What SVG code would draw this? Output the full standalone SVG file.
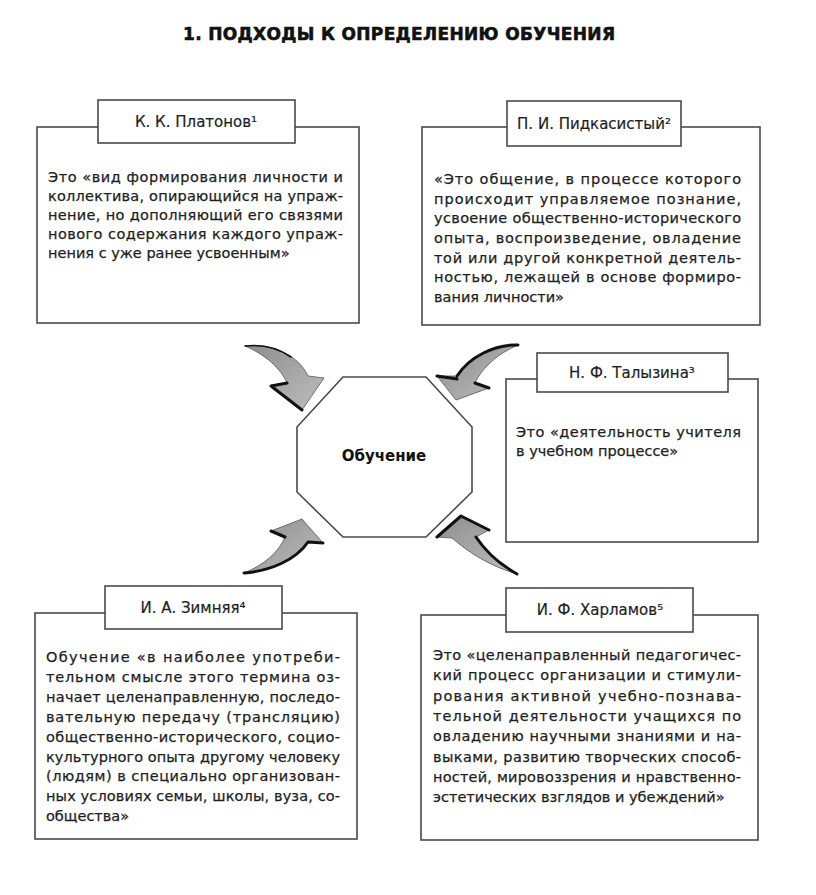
<svg xmlns="http://www.w3.org/2000/svg" width="816" height="895" viewBox="0 0 816 895">
<defs>
<linearGradient id="ag" x1="0" y1="0" x2="1" y2="1">
<stop offset="0" stop-color="#8e8e8e"/>
<stop offset="1" stop-color="#bdbdbd"/>
</linearGradient>
<style>
.box{fill:#fff;stroke:#4a4a4a;stroke-width:1.6}
.lab{font-family:"DejaVu Sans","Liberation Sans",sans-serif;font-size:15px;fill:#1e1e1e;stroke:#1e1e1e;stroke-width:0.2;text-anchor:middle}
.t{font-family:"DejaVu Sans","Liberation Sans",sans-serif;font-size:14.5px;fill:#1e1e1e;stroke:#1e1e1e;stroke-width:0.25}
.ttl{font-family:"DejaVu Sans","Liberation Sans",sans-serif;font-size:17px;font-weight:bold;fill:#111;stroke:#111;stroke-width:0.6}
.ctr{font-family:"DejaVu Sans","Liberation Sans",sans-serif;font-size:15px;font-weight:bold;fill:#111;text-anchor:middle}
.arr{fill:url(#ag);stroke:#555;stroke-width:0.8}
.edge{fill:none;stroke:#111;stroke-width:3;stroke-linecap:round;stroke-linejoin:round}
</style>
</defs>
<rect width="816" height="895" fill="#fff"/>
<text class="ttl" x="183" y="40" textLength="432" lengthAdjust="spacing">1. ПОДХОДЫ К ОПРЕДЕЛЕНИЮ ОБУЧЕНИЯ</text>

<g id="platonov">
<rect class="box" x="37" y="127" width="322" height="196"/>
<rect class="box" x="98" y="100" width="197" height="43"/>
<text class="lab" x="196" y="127">К. К. Платонов¹</text>
<text class="t" x="48" y="181.5" textLength="295" lengthAdjust="spacing">Это «вид формирования личности и</text>
<text class="t" x="48" y="200.7" textLength="295" lengthAdjust="spacing">коллектива, опирающийся на упраж-</text>
<text class="t" x="48" y="219.9" textLength="295" lengthAdjust="spacing">нение, но дополняющий его связями</text>
<text class="t" x="48" y="239.1" textLength="295" lengthAdjust="spacing">нового содержания каждого упраж-</text>
<text class="t" x="48" y="258.3">нения с уже ранее усвоенным»</text>
</g>

<g id="pidkasisty">
<rect class="box" x="422" y="127" width="338" height="198"/>
<rect class="box" x="507" y="101" width="174" height="45"/>
<text class="lab" x="594" y="129">П. И. Пидкасистый²</text>
<text class="t" x="434" y="184" textLength="307" lengthAdjust="spacing">«Это  общение, в процессе которого</text>
<text class="t" x="434" y="203.7" textLength="307" lengthAdjust="spacing">происходит управляемое познание,</text>
<text class="t" x="434" y="223.3" textLength="307" lengthAdjust="spacing">усвоение общественно-исторического</text>
<text class="t" x="434" y="243" textLength="307" lengthAdjust="spacing">опыта, воспроизведение, овладение</text>
<text class="t" x="434" y="262.7" textLength="307" lengthAdjust="spacing">той или другой конкретной деятель-</text>
<text class="t" x="434" y="282.3" textLength="307" lengthAdjust="spacing">ностью, лежащей в основе формиро-</text>
<text class="t" x="434" y="302">вания личности»</text>
</g>

<g id="talyzina">
<rect class="box" x="506" y="379" width="252" height="163"/>
<rect class="box" x="537" y="353" width="191" height="39"/>
<text class="lab" x="632" y="378">Н. Ф. Талызина³</text>
<text class="t" x="516" y="437" textLength="225" lengthAdjust="spacing">Это «деятельность учителя</text>
<text class="t" x="516" y="456">в учебном процессе»</text>
</g>

<g id="obuchenie">
<polygon class="box" points="343,377 426,377 472,427 472,492 426,537 343,537 297,492 297,427"/>
<text class="ctr" x="384" y="461">Обучение</text>
</g>

<g id="zimnyaya">
<rect class="box" x="35" y="613" width="322" height="226"/>
<rect class="box" x="105" y="586" width="177" height="43"/>
<text class="lab" x="193" y="613">И. А. Зимняя⁴</text>
<text class="t" x="46" y="662" textLength="294" lengthAdjust="spacing">Обучение «в наиболее употреби-</text>
<text class="t" x="46" y="681.9" textLength="294" lengthAdjust="spacing">тельном смысле этого термина оз-</text>
<text class="t" x="46" y="701.8" textLength="294" lengthAdjust="spacing">начает целенаправленную, последо-</text>
<text class="t" x="46" y="721.7" textLength="294" lengthAdjust="spacing">вательную  передачу (трансляцию)</text>
<text class="t" x="46" y="741.6" textLength="294" lengthAdjust="spacing">общественно-исторического, социо-</text>
<text class="t" x="46" y="761.5" textLength="294" lengthAdjust="spacing">культурного опыта другому человеку</text>
<text class="t" x="46" y="781.4" textLength="294" lengthAdjust="spacing">(людям) в специально организован-</text>
<text class="t" x="46" y="801.3" textLength="294" lengthAdjust="spacing">ных условиях семьи, школы, вуза, со-</text>
<text class="t" x="46" y="821.2">общества»</text>
</g>

<g id="kharlamov">
<rect class="box" x="421" y="615" width="337" height="225"/>
<rect class="box" x="506" y="588" width="187" height="44"/>
<text class="lab" x="600" y="615">И. Ф. Харламов⁵</text>
<text class="t" x="433" y="660" textLength="308" lengthAdjust="spacing">Это «целенаправленный педагогичес-</text>
<text class="t" x="433" y="680.3" textLength="308" lengthAdjust="spacing">кий процесс организации и стимули-</text>
<text class="t" x="433" y="700.6" textLength="308" lengthAdjust="spacing">рования активной учебно-познава-</text>
<text class="t" x="433" y="720.9" textLength="308" lengthAdjust="spacing">тельной деятельности учащихся по</text>
<text class="t" x="433" y="741.2" textLength="308" lengthAdjust="spacing">овладению научными знаниями и на-</text>
<text class="t" x="433" y="761.5" textLength="308" lengthAdjust="spacing">выками, развитию творческих способ-</text>
<text class="t" x="433" y="781.8" textLength="308" lengthAdjust="spacing">ностей, мировоззрения и нравственно-</text>
<text class="t" x="433" y="802.1">эстетических взглядов и убеждений»</text>
</g>

<g id="connectors">
<g id="arrow-platonov">
<path class="arr" d="M245,346 C270,343 298,354 308,376 L324,378 L302,410 L271,386 L287,383 C281,369 266,355 245,346 Z"/>
<path class="edge" d="M271,386 L302,410 M271,386 L287,383"/>
<path class="edge" style="stroke-width:1.6" d="M245,346 C262,344 278,348 291,357"/>
</g>
<g id="arrow-pidkasisty">
<path class="arr" d="M518,345 C495,344 469,357 457,376 L437,376 L456,400 L489,388 L475,383 C482,368 497,354 518,345 Z"/>
<path class="edge" d="M518,345 C495,344 469,357 457,376 M437,376 L457,379 M475,383 L489,388"/>
</g>
<g id="arrow-zimnyaya">
<path class="arr" d="M244,573 C270,571 296,560 308,542 L323,543 L302,519 L271,531 L285,537 C279,552 264,565 244,573 Z"/>
<path class="edge" d="M244,573 C270,571 296,560 308,542 L323,543 M271,531 L285,537"/>
</g>
<g id="arrow-kharlamov">
<path class="arr" d="M517,574 C490,566 469,553 452,538 L437,537 L461,516 L489,530 L476,537 C486,552 499,564 517,574 Z"/>
<path class="edge" d="M517,574 C499,564 486,552 476,537 M437,537 L461,516 L489,530"/>
</g>
</g>
</svg>
